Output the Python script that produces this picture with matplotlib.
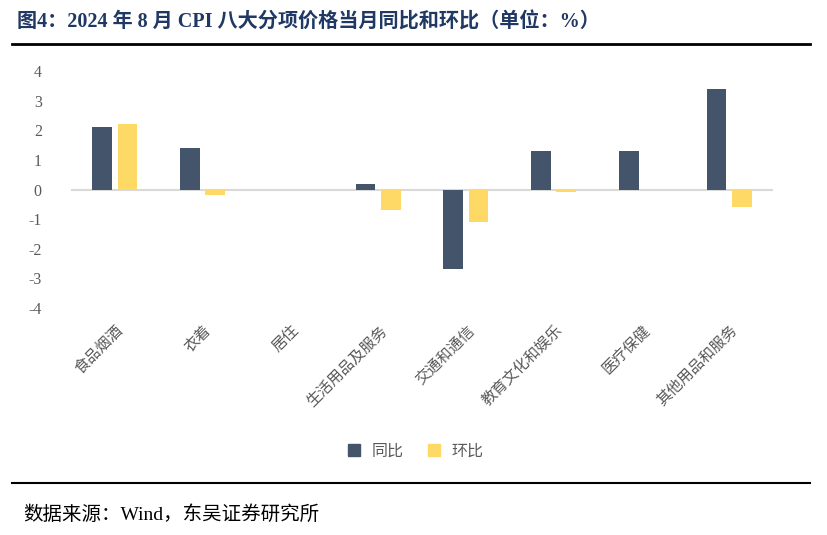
import matplotlib.pyplot as plt
import numpy as np
from matplotlib.lines import Line2D

plt.rcParams['font.family'] = ['Liberation Serif', 'Noto Sans CJK SC', 'DejaVu Sans']

categories = ['食品烟酒', '衣着', '居住', '生活用品及服务', '交通和通信', '教育文化和娱乐', '医疗保健', '其他用品和服务']
yoy = [2.1, 1.4, 0.0, 0.2, -2.7, 1.3, 1.3, 3.4]
mom = [2.2, -0.2, 0.0, -0.7, -1.1, -0.1, 0.0, -0.6]
yticks = [-4, -3, -2, -1, 0, 1, 2, 3, 4]

navy = '#44546A'
yellow = '#FFD966'
gray = '#595959'

fig = plt.figure(figsize=(8.27, 5.35), dpi=100)
ax = fig.add_axes([71 / 827, 1 - 308 / 535, 702 / 827, 237 / 535])

x = np.arange(len(categories))
w = 0.225
gap = 0.06
ax.bar(x - (w + gap) / 2, yoy, w, color=navy, linewidth=0, label='同比', zorder=3)
ax.bar(x + (w + gap) / 2, mom, w, color=yellow, linewidth=0, label='环比', zorder=3)
ax.axhline(0, color='#D9D9D9', linewidth=1.5, zorder=2)

ax.set_xlim(-0.5, len(categories) - 0.5)
ax.set_ylim(-4, 4)
ax.set_yticks(yticks)
ax.set_yticklabels([str(t) for t in yticks], fontsize=11.5, color=gray)
ax.set_xticks(x)
ax.set_xticklabels(categories, rotation=45, ha='right', va='top', rotation_mode='anchor',
                   fontsize=11, color=gray, family=['Noto Sans CJK SC'])
ax.tick_params(axis='both', length=0)
ax.tick_params(axis='x', pad=10)
ax.tick_params(axis='y', pad=21)
for s in ax.spines.values():
    s.set_visible(False)

handles = [Line2D([], [], marker='s', linestyle='', markersize=8.5, color=navy),
           Line2D([], [], marker='s', linestyle='', markersize=8.5, color=yellow)]
fig.legend(handles, ['同比', '环比'], loc='center', bbox_to_anchor=(411 / 827, 1 - 451 / 535),
           ncol=2, frameon=False, handletextpad=0.1, columnspacing=0.9,
           prop={'family': ['Noto Sans CJK SC'], 'size': 11.5}, labelcolor=gray)

fig.text(17 / 827, 1 - 22 / 535, '图4：2024 年 8 月 CPI 八大分项价格当月同比和环比（单位：%）',
         fontsize=14.5, fontweight='bold', color='#1F3864', va='center', ha='left')
fig.add_artist(Line2D([12 / 827, 810 / 827], [1 - 44 / 535, 1 - 44 / 535], color='black', linewidth=2))
fig.add_artist(Line2D([12 / 827, 810 / 827], [1 - 483 / 535, 1 - 483 / 535], color='black', linewidth=1.5))
fig.text(23 / 827, 1 - 515 / 535, '数据来源：Wind，东吴证券研究所', fontsize=14, color='black', va='center', ha='left')

fig.savefig('out.png', dpi=100)
